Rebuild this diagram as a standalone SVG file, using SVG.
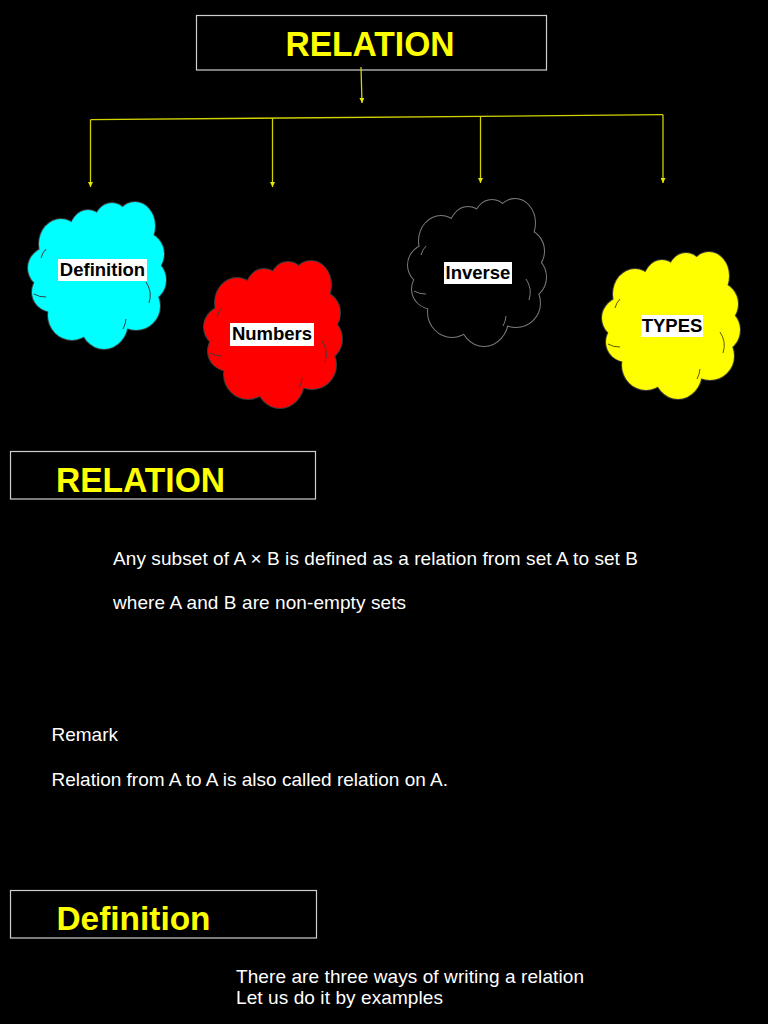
<svg xmlns="http://www.w3.org/2000/svg" xmlns:xlink="http://www.w3.org/1999/xlink" width="768" height="1024" viewBox="0 0 768 1024">
<style>
.box{fill:#000;stroke:#cfcfcf;stroke-width:1.2}
.title{font-family:"Liberation Sans",Arial,sans-serif;font-weight:bold;fill:#ffff00}
.body{font-family:"Liberation Sans",Arial,sans-serif;font-size:19px;fill:#ffffff}
.lbl{font-family:"Liberation Sans",Arial,sans-serif;font-weight:bold;font-size:18.5px;fill:#000;text-anchor:middle}
.lblbg{fill:#ffffff}
.conn{stroke:#d2d200;stroke-width:1.3;fill:none}
.inner{fill:none;stroke-width:1}
</style>
<defs>
<marker id="arr" viewBox="0 0 6 6" refX="6" refY="3" markerWidth="5" markerHeight="5" markerUnits="userSpaceOnUse" orient="auto">
<path d="M0,0 L6,3 L0,6 z" fill="#e6e600"/>
</marker>
<g id="cloud">
<ellipse cx="33" cy="42" rx="22" ry="25"/>
<ellipse cx="60" cy="32" rx="19" ry="24"/>
<ellipse cx="84" cy="25" rx="19" ry="24"/>
<ellipse cx="107" cy="24" rx="20" ry="24"/>
<ellipse cx="117" cy="52" rx="19" ry="21"/>
<ellipse cx="117" cy="78" rx="21" ry="22"/>
<ellipse cx="108" cy="104" rx="24" ry="24"/>
<ellipse cx="76" cy="120" rx="24" ry="27"/>
<ellipse cx="44" cy="113" rx="24" ry="25"/>
<ellipse cx="25" cy="90" rx="21" ry="20"/>
<ellipse cx="22" cy="66" rx="22" ry="21"/>
<circle cx="70" cy="75" r="52"/>
</g>
<path id="cloudInner" d="M118 80 A24 24 0 0 1 121 101 M6 92 A22 22 0 0 0 18 95 M13 56 A20 20 0 0 1 18 47 M95 127 A25 25 0 0 0 98 117"/>
</defs>
<rect x="0" y="0" width="768" height="1024" fill="#000"/>

<g id="node-relation-top">
<rect class="box" x="196.5" y="15.5" width="350" height="54.5"/>
<text class="title" x="370" y="56" font-size="35" text-anchor="middle" textLength="169" lengthAdjust="spacingAndGlyphs">RELATION</text>
</g>

<g id="connectors">
<path class="conn" d="M361 67 L362 103" marker-end="url(#arr)"/>
<path class="conn" d="M90.5 119.7 L663 114.7"/>
<path class="conn" d="M90.5 119.7 V187" marker-end="url(#arr)"/>
<path class="conn" d="M272.5 118.2 V187" marker-end="url(#arr)"/>
<path class="conn" d="M480.5 116.4 V183" marker-end="url(#arr)"/>
<path class="conn" d="M663 114.7 V183" marker-end="url(#arr)"/>
</g>

<g id="node-definition-cloud">
<g transform="translate(28,202)">
<use xlink:href="#cloud" fill="#00ffff" stroke="#3c3c3c" stroke-width="2"/>
<use xlink:href="#cloud" fill="#00ffff"/>
<use xlink:href="#cloudInner" class="inner" stroke="#3c3c3c"/>
</g>
<rect class="lblbg" x="58" y="259" width="89" height="22"/>
<text class="lbl" x="102.5" y="276">Definition</text>
</g>

<g id="node-numbers-cloud">
<g transform="translate(204,261)">
<use xlink:href="#cloud" fill="#ff0000" stroke="#3c3c3c" stroke-width="2"/>
<use xlink:href="#cloud" fill="#ff0000"/>
<use xlink:href="#cloudInner" class="inner" stroke="#3c3c3c"/>
</g>
<rect class="lblbg" x="230" y="323" width="84" height="23"/>
<text class="lbl" x="272" y="340">Numbers</text>
</g>

<g id="node-inverse-cloud">
<g transform="translate(408,199)">
<use xlink:href="#cloud" fill="#000000" stroke="#7a7a7a" stroke-width="2"/>
<use xlink:href="#cloud" fill="#000000"/>
<use xlink:href="#cloudInner" class="inner" stroke="#7a7a7a"/>
</g>
<rect class="lblbg" x="444" y="262" width="68" height="22"/>
<text class="lbl" x="478" y="279">Inverse</text>
</g>

<g id="node-types-cloud">
<g transform="translate(602,252)">
<use xlink:href="#cloud" fill="#ffff00" stroke="#3c3c3c" stroke-width="2"/>
<use xlink:href="#cloud" fill="#ffff00"/>
<use xlink:href="#cloudInner" class="inner" stroke="#5a5a00"/>
</g>
<rect class="lblbg" x="641" y="315" width="62" height="22"/>
<text class="lbl" x="672" y="332">TYPES</text>
</g>

<g id="node-relation-heading">
<rect class="box" x="10.5" y="451.5" width="305" height="47.5"/>
<text class="title" x="56" y="492" font-size="35" textLength="169" lengthAdjust="spacingAndGlyphs">RELATION</text>
</g>

<g id="relation-text">
<text class="body" x="113" y="565" textLength="525" lengthAdjust="spacing">Any subset of A × B is defined as a relation from set A to set B</text>
<text class="body" x="113" y="609" textLength="293" lengthAdjust="spacing">where A and B are non-empty sets</text>
<text class="body" x="51.5" y="741">Remark</text>
<text class="body" x="51.5" y="786" textLength="396.5" lengthAdjust="spacing">Relation from A to A is also called relation on A.</text>
</g>

<g id="node-definition-heading">
<rect class="box" x="10.5" y="890.5" width="306" height="47.5"/>
<text class="title" x="56.5" y="930" font-size="34" textLength="154" lengthAdjust="spacingAndGlyphs">Definition</text>
</g>

<g id="definition-text">
<text class="body" x="236" y="983" textLength="348" lengthAdjust="spacing">There are three ways of writing a relation</text>
<text class="body" x="236" y="1004" textLength="207" lengthAdjust="spacing">Let us do it by examples</text>
</g>
</svg>
